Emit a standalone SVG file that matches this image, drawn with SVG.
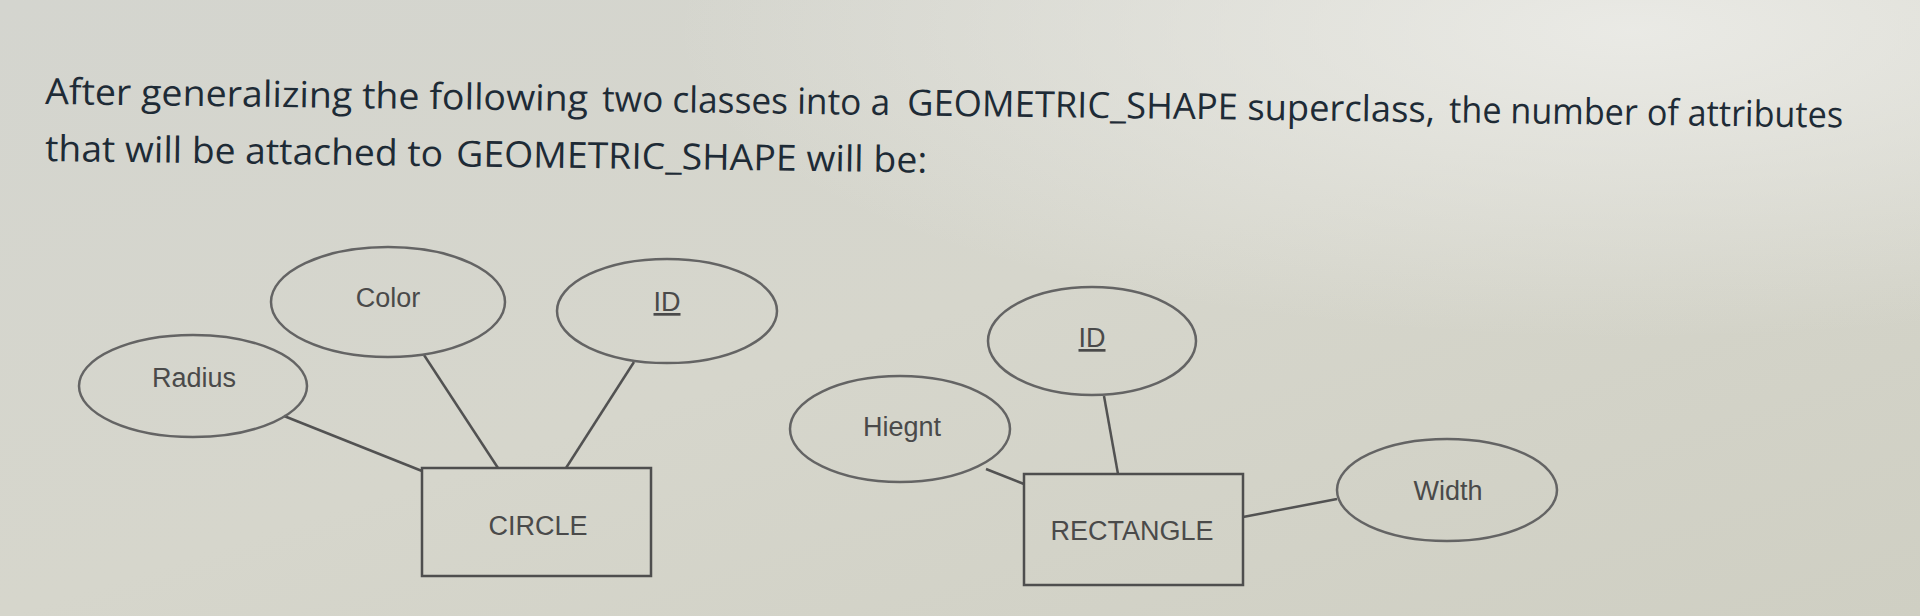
<svg xmlns="http://www.w3.org/2000/svg" width="1920" height="616" viewBox="0 0 1920 616">
  <defs>
    <linearGradient id="bg" x1="0" y1="0" x2="1" y2="1">
      <stop offset="0" stop-color="#d4d5cf"/>
      <stop offset="0.5" stop-color="#d6d6cc"/>
      <stop offset="1" stop-color="#cfcfc3"/>
    </linearGradient>
    <radialGradient id="glow" cx="0.85" cy="0.05" r="0.5">
      <stop offset="0" stop-color="#ecece8" stop-opacity="0.9"/>
      <stop offset="1" stop-color="#ecece8" stop-opacity="0"/>
    </radialGradient>
    <style>
      .title { font-family: "Open Sans", "Noto Sans", sans-serif; font-size: 36px; fill: #1e2b36; }
      .attr { fill: none; stroke: #646464; stroke-width: 2.5; }
      .ent { fill: none; stroke: #4e4e4e; stroke-width: 2.5; }
      .lbl { font-family: "Liberation Sans", Arial, sans-serif; font-size: 27px; fill: #4a4a4a; text-anchor: middle; }
      .conn line { stroke: #525252; stroke-width: 2.5; }
    </style>
  </defs>
  <rect width="1920" height="616" fill="url(#bg)"/>
  <rect width="1920" height="616" fill="url(#glow)"/>

  <g id="question">
    <text class="title" x="45" y="104" transform="rotate(0.75 45 104)" textLength="543" lengthAdjust="spacingAndGlyphs">After generalizing the following</text>
    <text class="title" x="602" y="111.3" transform="rotate(0.75 602 111.3)" textLength="288" lengthAdjust="spacingAndGlyphs">two classes into a</text>
    <text class="title" x="907" y="115.3" transform="rotate(0.75 907 115.3)" textLength="528" lengthAdjust="spacingAndGlyphs">GEOMETRIC_SHAPE superclass,</text>
    <text class="title" x="1449" y="122.4" transform="rotate(0.75 1449 122.4)" textLength="394" lengthAdjust="spacingAndGlyphs">the number of attributes</text>
    <text class="title" x="45" y="161" transform="rotate(0.75 45 161)" textLength="398" lengthAdjust="spacingAndGlyphs">that will be attached to</text>
    <text class="title" x="456" y="166.4" transform="rotate(0.75 456 166.4)" textLength="471" lengthAdjust="spacingAndGlyphs">GEOMETRIC_SHAPE will be:</text>
  </g>

  <g id="connectors" class="conn">
    <line x1="284" y1="416" x2="422" y2="471"/>
    <line x1="424" y1="355" x2="498" y2="468"/>
    <line x1="634" y1="362" x2="566" y2="468"/>
    <line x1="1104" y1="396" x2="1118" y2="474"/>
    <line x1="986" y1="469" x2="1024" y2="484"/>
    <line x1="1337" y1="499" x2="1243" y2="517"/>
  </g>

  <g id="circle-entity">
    <rect class="ent" x="422" y="468" width="229" height="108"/>
    <text class="lbl" x="538" y="535">CIRCLE</text>
  </g>
  <g id="radius-attr">
    <ellipse class="attr" cx="193" cy="386" rx="114" ry="51"/>
    <text class="lbl" x="194" y="387">Radius</text>
  </g>
  <g id="color-attr">
    <ellipse class="attr" cx="388" cy="302" rx="117" ry="55"/>
    <text class="lbl" x="388" y="307">Color</text>
  </g>
  <g id="circle-id-attr">
    <ellipse class="attr" cx="667" cy="311" rx="110" ry="52"/>
    <text class="lbl" x="667" y="311" text-decoration="underline">ID</text>
  </g>

  <g id="rectangle-entity">
    <rect class="ent" x="1024" y="474" width="219" height="111"/>
    <text class="lbl" x="1132" y="540">RECTANGLE</text>
  </g>
  <g id="rect-id-attr">
    <ellipse class="attr" cx="1092" cy="341" rx="104" ry="54"/>
    <text class="lbl" x="1092" y="347" text-decoration="underline">ID</text>
  </g>
  <g id="height-attr">
    <ellipse class="attr" cx="900" cy="429" rx="110" ry="53"/>
    <text class="lbl" x="902" y="436">Hiegnt</text>
  </g>
  <g id="width-attr">
    <ellipse class="attr" cx="1447" cy="490" rx="110" ry="51"/>
    <text class="lbl" x="1448" y="500">Width</text>
  </g>
</svg>
